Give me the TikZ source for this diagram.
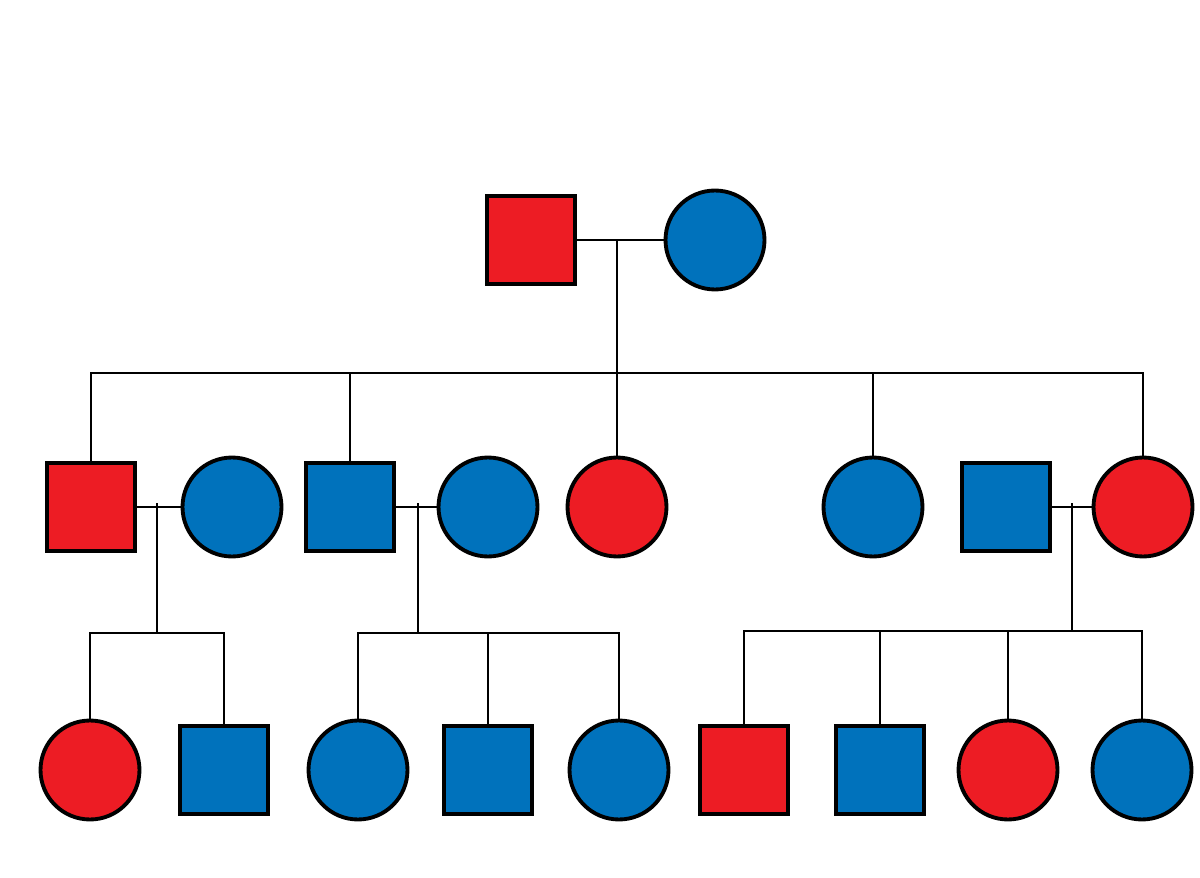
\documentclass[tikz,border=0pt]{standalone}
\begin{document}
\definecolor{pr}{RGB}{237,28,36}
\definecolor{pb}{RGB}{0,114,188}
\begin{tikzpicture}[x=0.02cm,y=-0.02cm,
 sq/.style={draw=black,line width=2.2pt,rectangle,minimum size=1.76cm,inner sep=0pt},
 ci/.style={draw=black,line width=2.2pt,circle,minimum size=1.98cm,inner sep=0pt},
 ln/.style={line width=1.6pt}]
\useasboundingbox (0,0) rectangle (1200,878);
% generation 1
\node[sq,fill=pr] (g1m) at (531,240) {};
\node[ci,fill=pb] (g1f) at (715,240) {};
% generation 2
\node[sq,fill=pr] (a) at (91,507) {};
\node[ci,fill=pb] (as) at (232,507) {};
\node[sq,fill=pb] (b) at (350,507) {};
\node[ci,fill=pb] (bs) at (488,507) {};
\node[ci,fill=pr] (c) at (617,507) {};
\node[ci,fill=pb] (d) at (873,507) {};
\node[sq,fill=pb] (es) at (1006,507) {};
\node[ci,fill=pr] (e) at (1143,507) {};
% generation 3
\node[ci,fill=pr] (a1) at (90,770) {};
\node[sq,fill=pb] (a2) at (224,770) {};
\node[ci,fill=pb] (b1) at (358,770) {};
\node[sq,fill=pb] (b2) at (488,770) {};
\node[ci,fill=pb] (b3) at (619,770) {};
\node[sq,fill=pr] (e1) at (744,770) {};
\node[sq,fill=pb] (e2) at (880,770) {};
\node[ci,fill=pr] (e3) at (1008,770) {};
\node[ci,fill=pb] (e4) at (1142,770) {};
% coordinates
\coordinate (m0) at (617,240);
\coordinate (s0) at (617,373);
\coordinate (m1) at (157,503);
\coordinate (s1) at (157,633);
\coordinate (m2) at (418,503);
\coordinate (s2) at (418,633);
\coordinate (m3) at (1072,503);
\coordinate (s3) at (1072,631);
% lines
\draw[ln] (g1m) -- (g1f);
\draw[ln] (m0) -- (s0);
\draw[ln] (a.north) -- (91,373) -- (1143,373) -- (e.north);
\draw[ln] (b.north) |- (s0);
\draw[ln] (c.north) -- (s0);
\draw[ln] (d.north) |- (s0);
\draw[ln] (a.east) -- (as.west);
\draw[ln] (m1) -- (s1);
\draw[ln] (a1.north) -- (90,633) -- (224,633) -- (a2.north);
\draw[ln] (b.east) -- (bs.west);
\draw[ln] (m2) -- (s2);
\draw[ln] (b1.north) -- (358,633) -- (619,633) -- (b3.north);
\draw[ln] (b2.north) -- (488,633);
\draw[ln] (es.east) -- (e.west);
\draw[ln] (m3) -- (s3);
\draw[ln] (e1.north) -- (744,631) -- (1142,631) -- (e4.north);
\draw[ln] (e2.north) -- (880,631);
\draw[ln] (e3.north) -- (1008,631);
\end{tikzpicture}
\end{document}
